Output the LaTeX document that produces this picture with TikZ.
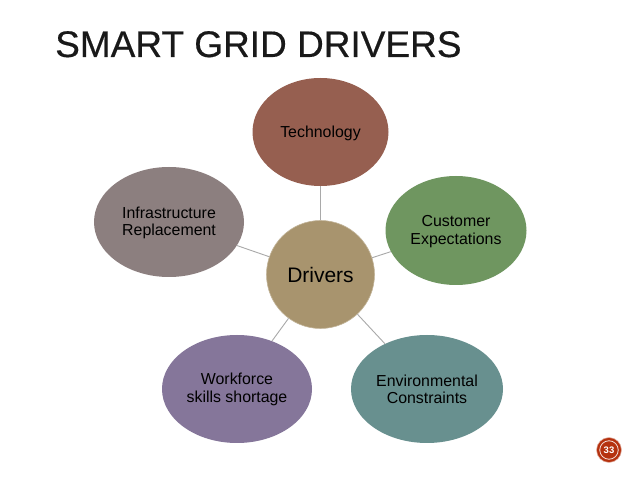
\documentclass[tikz,border=0pt]{standalone}
\usepackage{fontspec}
\usetikzlibrary{shapes.geometric}
\setmainfont{Liberation Sans}
\definecolor{ctech}{HTML}{965F50}
\definecolor{ccust}{HTML}{6F9660}
\definecolor{cenv}{HTML}{68908F}
\definecolor{cwork}{HTML}{85769A}
\definecolor{cinfr}{HTML}{8C7F7F}
\definecolor{cdriv}{HTML}{A8946E}
\definecolor{cline}{HTML}{A9A9A9}
\definecolor{cbadge}{HTML}{B5320F}
\tikzset{
  x=1pt,y=-1pt,
  petal/.style={ellipse,minimum width=#1,inner sep=0pt},
  petaltext/.style={inner sep=0pt,align=center,text=black,font=\fontsize{15.9}{17.3}\selectfont},
  hub/.style={circle,minimum size=108pt,inner sep=0pt,fill=cdriv,draw=cdriv!70!white,line width=.6pt,font=\fontsize{21}{24}\selectfont},
  spoke/.style={draw=cline,line width=.9pt},
}
\begin{document}
\begin{tikzpicture}
\useasboundingbox (0,0) rectangle (638,478);
\fill[white] (0,0) rectangle (638,478);
\node[anchor=base west,inner sep=0pt,font=\fontsize{37}{40}\selectfont,text=black!90] (title) at (55,57) {\addfontfeatures{FakeBold=0.4}SMART GRID DRIVERS};
\node[hub] (drv) at (320.5,274.5) {Drivers};
\node[petal=136pt,minimum height=108pt,fill=ctech] (tech) at (320.5,132) {};
\node[petal=141pt,minimum height=109pt,fill=ccust] (cust) at (456,230.5) {};
\node[petal=152pt,minimum height=108pt,fill=cenv] (env) at (427,389) {};
\node[petal=150pt,minimum height=108pt,fill=cwork] (work) at (237,389) {};
\node[petal=150pt,minimum height=110pt,fill=cinfr] (infr) at (169,222) {};
\node[petaltext] (techt) at (320.5,133) {Technology};
\node[petaltext] (custt) at (456,231.5) {Customer\\Expectations};
\node[petaltext] (envt) at (427,389.5) {Environmental\\Constraints};
\node[petaltext] (workt) at (237,389.5) {Workforce\\skills shortage};
\node[petaltext,align=left,anchor=west] (infrt) at (122,223) {Infrastructure\\Replacement};
\draw[spoke] (drv) -- (tech);
\draw[spoke] (drv) -- (cust);
\draw[spoke] (drv) -- (env);
\draw[spoke] (drv) -- (work);
\draw[spoke] (drv) -- (infr);
\node[circle,minimum size=25pt,inner sep=0pt,fill=cbadge,draw=cbadge!35!white,line width=.5pt] (bdg) at (609,450) {};
\node[circle,minimum size=18.5pt,inner sep=0pt,draw=white!85!cbadge,line width=.8pt,text=white,font=\bfseries\fontsize{9.5}{10}\selectfont] (num) at (609,450) {33};
\end{tikzpicture}
\end{document}
